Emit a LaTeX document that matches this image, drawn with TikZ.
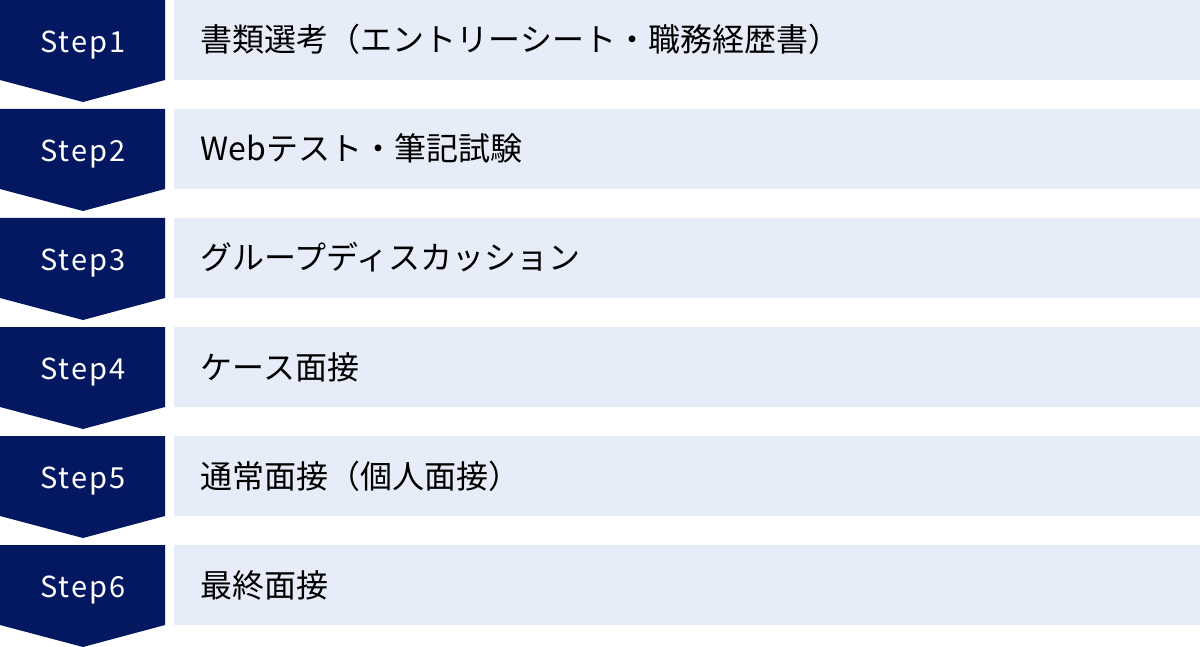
\documentclass[tikz,border=0pt]{standalone}
\usepackage{fontspec}
\newfontfamily\jp{Noto Sans CJK JP}
\newfontfamily\jpsp[LetterSpace=7]{Noto Sans CJK JP}
\definecolor{navy}{HTML}{041862}
\definecolor{pale}{HTML}{E6ECF8}
\begin{document}
\begin{tikzpicture}[x=1pt,y=-1pt,
  chev/.style={fill=navy,draw=none},
  band/.style={fill=pale,draw=none},
  steplbl/.style={text=white,font=\jpsp\fontsize{29}{29}\selectfont,inner sep=0pt,anchor=base},
  itemlbl/.style={text=black,font=\jp\fontsize{32}{32}\selectfont,inner sep=0pt,anchor=base west}]
\useasboundingbox (0,0) rectangle (1200,647);
\foreach \i/\t in {1/書類選考（エントリーシート・職務経歴書）,2/Webテスト・筆記試験,3/グループディスカッション,4/ケース面接,5/通常面接（個人面接）,6/最終面接}{
  \pgfmathsetmacro{\yy}{(\i-1)*109}
  \fill[chev] (0,\yy) -- (165,\yy) -- (165,\yy+80) -- (83,\yy+102) -- (0,\yy+80) -- cycle;
  \fill[band] (174,\yy) rectangle (1200,\yy+80);
  \node[steplbl] (s\i) at (83,\yy+52.3) {Step\i};
  \node[itemlbl] (t\i) at (200.5,\yy+52) {\t};
}
\end{tikzpicture}
\end{document}
